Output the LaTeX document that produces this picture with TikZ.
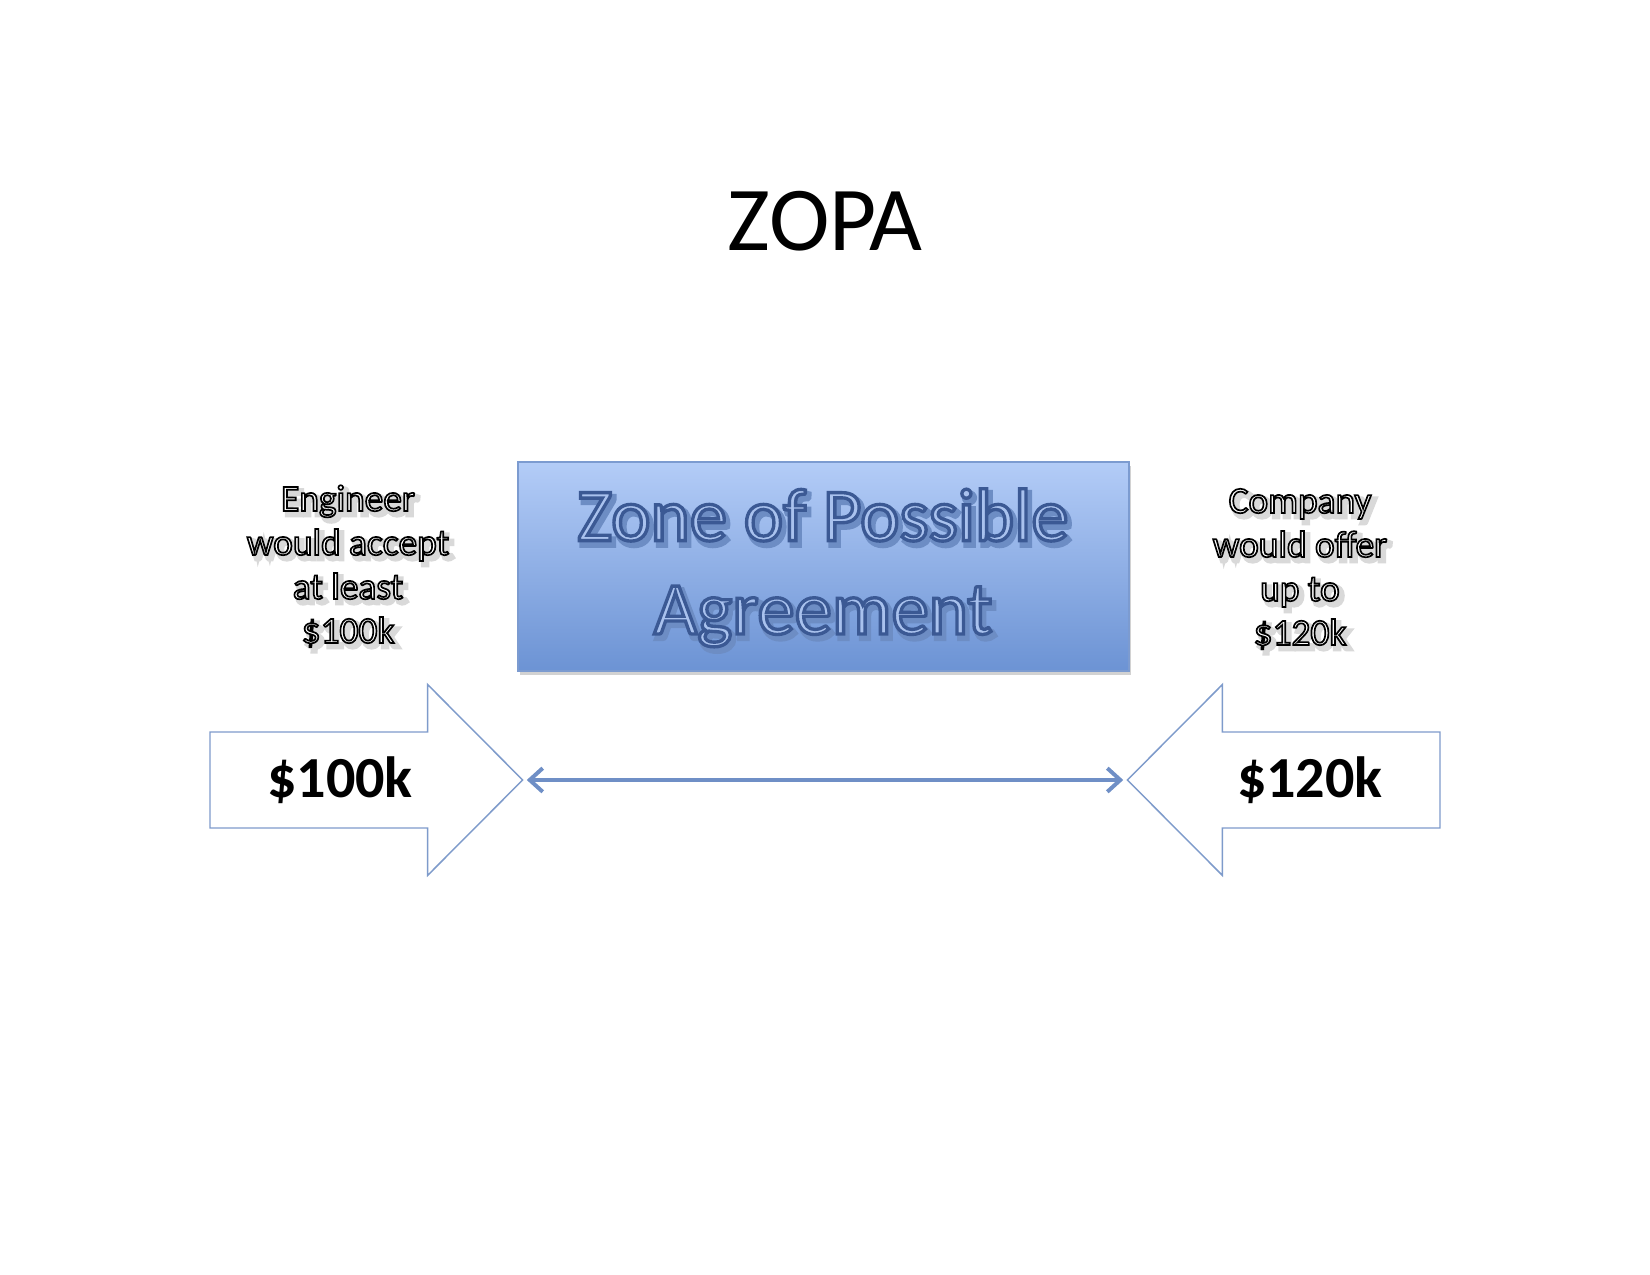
\documentclass[tikz,border=0pt]{standalone}
\usepackage{fontspec}
\setmainfont{Carlito}
\newfontface\inkface{Carlito}[FakeBold=4.5]
\newfontface\haloface{Carlito}[FakeBold=14]
\newfontface\zoneface{Carlito}[FakeBold=4.5]
\newfontface\zonehalo{Carlito}[FakeBold=8]
\usetikzlibrary{arrows.meta,shadows}

\definecolor{zoneTop}{HTML}{B3CCF7}
\definecolor{zoneBot}{HTML}{6C93D4}
\definecolor{zoneEdge}{HTML}{7C9BD0}
\definecolor{zoneGlow}{HTML}{6D8DC4}
\definecolor{arrowEdge}{HTML}{7E9BCB}
\definecolor{spanBlue}{HTML}{6F8FC6}

% outlined text (white fill, black stroke) with a soft shadow
\newcommand{\inked}[1]{\leavevmode\rlap{\hspace{1.8pt}\raisebox{-1.8pt}{\haloface\color{black!15}#1}}\special{pdf:bc [1] [0]}{\inkface#1}\special{pdf:ec}}
\newcommand{\zoned}[1]{\leavevmode\rlap{\hspace{1.5pt}\raisebox{-2pt}{\zonehalo\color{zoneGlow}#1}}\special{pdf:bc [0.663 0.761 0.933] [0.23 0.35 0.58]}{\zoneface#1}\special{pdf:ec}}

\begin{document}
\begin{tikzpicture}[every node/.style={inner sep=0pt, outer sep=0pt},
  note/.style={align=center, font=\fontsize{18}{21.2}\selectfont},
  price/.style={font=\fontsize{28}{34}\selectfont\bfseries},
  bigarrow/.style={draw=arrowEdge, line width=0.7pt, fill=white, line join=miter},
  spanline/.style={draw=spanBlue, line width=1.9pt, line cap=round, {Straight Barb[length=2.2mm,width=4mm]}-{Straight Barb[length=2.2mm,width=4mm]}, shorten <=0.7mm, shorten >=0.7mm}]
\useasboundingbox (0,0) rectangle (27.94,21.59);
\fill[white] (0,0) rectangle (27.94,21.59);

\node[anchor=base, font=\fontsize{44}{53}\selectfont] (title) at (13.97,17.356) {ZOPA};

% the zone box
\node[draw=zoneEdge, line width=0.8pt, top color=zoneTop, bottom color=zoneBot, minimum width=10.346cm, minimum height=3.539cm, drop shadow={shadow xshift=0.4mm, shadow yshift=-0.6mm, opacity=0.35}] (zone) at (13.944,11.997) {};
\node[anchor=base, align=center, font=\fontsize{36}{45}\selectfont] (zoneText) at (13.936,10.854) {\zoned{Zone of Possible}\\\zoned{Agreement}};

% side notes
\node[note, anchor=base] (engNote) at (5.893,10.702) {\inked{Engineer}\\\inked{would accept}\\\inked{at least}\\\inked{\$100k}};
\node[note, anchor=base] (coNote) at (22.013,10.668) {\inked{Company}\\\inked{would offer}\\\inked{up to}\\\inked{\$120k}};

% the two big arrows
\coordinate (engTip) at (8.85,8.382);
\coordinate (coTip) at (19.09,8.382);
\draw[bigarrow] (3.556,9.195) -- (7.24,9.195) -- (7.24,9.999) -- (engTip) -- (7.24,6.765) -- (7.24,7.569) -- (3.556,7.569) -- cycle;
\draw[bigarrow] (24.384,9.195) -- (20.70,9.195) -- (20.70,9.999) -- (coTip) -- (20.70,6.765) -- (20.70,7.569) -- (24.384,7.569) -- cycle;
\node[price, anchor=base] (engVal) at (5.757,8.094) {\$100k};
\node[price, anchor=base] (coVal) at (22.18,8.094) {\$120k};

\draw[spanline] (engTip) -- (coTip);
\end{tikzpicture}
\end{document}
